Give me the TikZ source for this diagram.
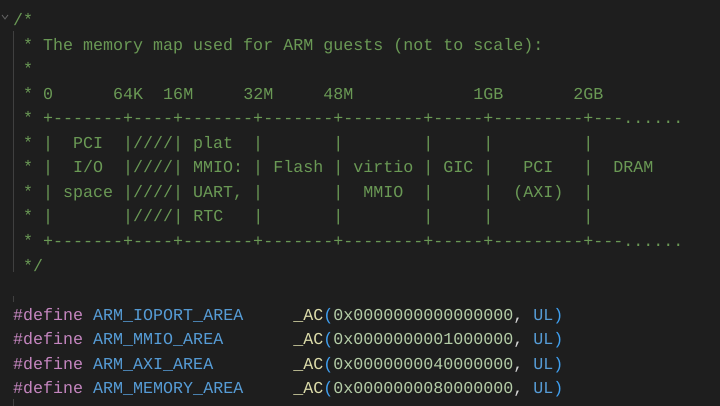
\documentclass[tikz,border=0pt]{standalone}
\usepackage{fontspec}
\setmonofont{Liberation Mono}
\definecolor{bg}{HTML}{1E1E1E}
\definecolor{cmt}{HTML}{6A9955}
\definecolor{kw}{HTML}{C586C0}
\definecolor{mac}{HTML}{569CD6}
\definecolor{fn}{HTML}{DCDCAA}
\definecolor{num}{HTML}{B5CEA8}
\definecolor{punc}{HTML}{D4D4D4}
\definecolor{brk}{HTML}{3F9FEF}
\definecolor{guide}{HTML}{404040}
\definecolor{fold}{HTML}{606060}
\newcommand{\codeline}[3]{\node[anchor=base west,inner sep=0pt,text=#3] at (13pt,{-26pt-24.5pt*#1}) {#2};}
\begin{document}
\begin{tikzpicture}[x=1pt,y=1pt,font=\ttfamily\fontsize{16.67}{20}\selectfont]
\fill[bg] (0,0) rectangle (720,-406);
\useasboundingbox (0,0) rectangle (720,-406);
\draw[guide,line width=1pt] (13,-31) -- (13,-272);
\draw[guide,line width=1pt] (13,-296) -- (13,-302);
\draw[guide,line width=1pt] (13,-399) -- (13,-406);
\draw[fold,line width=0.9pt] (2,-15) -- (5,-19) -- (8,-15);
\codeline{0}{/*}{cmt}
\codeline{1}{~*~The~memory~map~used~for~ARM~guests~(not~to~scale):}{cmt}
\codeline{2}{~*}{cmt}
\codeline{3}{~*~0~~~~~~64K~~16M~~~~~32M~~~~~48M~~~~~~~~~~~~1GB~~~~~~~2GB}{cmt}
\codeline{4}{~*~+-------+----+-------+-------+--------+-----+---------+---......}{cmt}
\codeline{5}{~*~|~~PCI~~|////|~plat~~|~~~~~~~|~~~~~~~~|~~~~~|~~~~~~~~~|}{cmt}
\codeline{6}{~*~|~~I/O~~|////|~MMIO:~|~Flash~|~virtio~|~GIC~|~~~PCI~~~|~~DRAM}{cmt}
\codeline{7}{~*~|~space~|////|~UART,~|~~~~~~~|~~MMIO~~|~~~~~|~~(AXI)~~|}{cmt}
\codeline{8}{~*~|~~~~~~~|////|~RTC~~~|~~~~~~~|~~~~~~~~|~~~~~|~~~~~~~~~|}{cmt}
\codeline{9}{~*~+-------+----+-------+-------+--------+-----+---------+---......}{cmt}
\codeline{10}{~*/}{cmt}
\codeline{12}{\textcolor{kw}{\#define}~\textcolor{mac}{ARM\_IOPORT\_AREA}~~~~~\textcolor{fn}{\_AC}\textcolor{brk}{(}\textcolor{num}{0x0000000000000000}\textcolor{punc}{,}~\textcolor{mac}{UL}\textcolor{brk}{)}}{punc}
\codeline{13}{\textcolor{kw}{\#define}~\textcolor{mac}{ARM\_MMIO\_AREA}~~~~~~~\textcolor{fn}{\_AC}\textcolor{brk}{(}\textcolor{num}{0x0000000001000000}\textcolor{punc}{,}~\textcolor{mac}{UL}\textcolor{brk}{)}}{punc}
\codeline{14}{\textcolor{kw}{\#define}~\textcolor{mac}{ARM\_AXI\_AREA}~~~~~~~~\textcolor{fn}{\_AC}\textcolor{brk}{(}\textcolor{num}{0x0000000040000000}\textcolor{punc}{,}~\textcolor{mac}{UL}\textcolor{brk}{)}}{punc}
\codeline{15}{\textcolor{kw}{\#define}~\textcolor{mac}{ARM\_MEMORY\_AREA}~~~~~\textcolor{fn}{\_AC}\textcolor{brk}{(}\textcolor{num}{0x0000000080000000}\textcolor{punc}{,}~\textcolor{mac}{UL}\textcolor{brk}{)}}{punc}
\end{tikzpicture}
\end{document}
